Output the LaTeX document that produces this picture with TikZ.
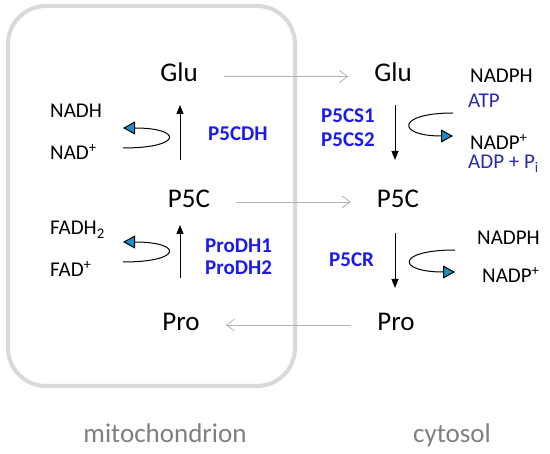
\documentclass[tikz,border=0pt]{standalone}
\usepackage{fontspec}
\setmainfont{Carlito}
\usetikzlibrary{arrows.meta}
\definecolor{boxgray}{HTML}{D9D9D9}
\definecolor{arrgray}{HTML}{B4B4B4}
\definecolor{enzblue}{HTML}{1A1AF0}
\definecolor{navyblue}{HTML}{2B2BA6}
\definecolor{curlblue}{HTML}{1E8CC8}
\definecolor{labgray}{HTML}{7F7F7F}
\begin{document}
\begin{tikzpicture}[x=1pt,y=-1pt,
  main/.style={font=\fontsize{27}{30}\selectfont, text height=17pt, text depth=6pt, inner xsep=26pt, inner ysep=0pt},
  cof/.style={font=\fontsize{21}{24}\selectfont, anchor=base west, inner sep=0pt},
  cofnavy/.style={cof, text=navyblue},
  enz/.style={font=\fontsize{21}{24}\selectfont\bfseries, text=enzblue, anchor=base west, inner sep=0pt},
  comp/.style={font=\fontsize{27}{30}\selectfont, text=labgray, anchor=base, inner sep=0pt},
  garrow/.style={draw=arrgray, line width=0.8pt, -{Straight Barb[length=8pt,width=12pt]}},
  varrow/.style={draw=black, line width=0.9pt, -{Triangle[length=9pt,width=7pt]}},
  curl/.style={draw=black, line width=1pt, -{Triangle[length=12pt,width=13pt,fill=curlblue]}}
]
\useasboundingbox (0,0) rectangle (550,454);
\draw[boxgray, line width=4pt, rounded corners=38pt] (8,6) rectangle (295,386);

% main metabolites
\node[main] (glum) at (179,76.5) {Glu};
\node[main] (gluc) at (393,76.5) {Glu};
\node[main] (p5cm) at (189,202) {P5C};
\node[main] (p5cc) at (398,202) {P5C};
\node[main] (prom) at (181,325) {Pro};
\node[main] (proc) at (396,325) {Pro};

% transport arrows
\draw[garrow] (glum) -- (gluc);
\draw[garrow] (p5cm) -- (p5cc);
\draw[garrow] (proc) -- (prom);

% reaction arrows
\coordinate (m1s) at (180,160);
\coordinate (m1e) at (180,105);
\coordinate (m2s) at (180,278);
\coordinate (m2e) at (180,225);
\coordinate (c1s) at (395,105);
\coordinate (c1e) at (395,160);
\coordinate (c2s) at (395,233);
\coordinate (c2e) at (395,288);
\draw[varrow] (m1s) -- (m1e);
\draw[varrow] (m2s) -- (m2e);
\draw[varrow] (c1s) -- (c1e);
\draw[varrow] (c2s) -- (c2e);

% cofactors
\node[cof] (nadh) at (50,118) {NADH};
\node[cof] (nad) at (50,160) {NAD\textsuperscript{+}};
\node[cof] (fadh) at (50,235) {FADH\textsubscript{2}};
\node[cof] (fad) at (50,277) {FAD\textsuperscript{+}};
\node[cof] (nadph1) at (470,83) {NADPH};
\node[cofnavy] (atp) at (468,108) {ATP};
\node[cof] (nadp1) at (470,150) {NADP\textsuperscript{+}};
\node[cofnavy] (adp) at (468,169) {ADP + P\textsubscript{i}};
\node[cof] (nadph2) at (477,245) {NADPH};
\node[cof] (nadp2) at (482,283) {NADP\textsuperscript{+}};

% enzymes
\node[enz] (p5cdh) at (208,141) {P5CDH};
\node[enz] (prodh1) at (205,253) {ProDH1};
\node[enz] (prodh2) at (205,275) {ProDH2};
\node[enz] (p5cs1) at (321,123) {P5CS1};
\node[enz] (p5cs2) at (321,147) {P5CS2};
\node[enz] (p5cr) at (329,267) {P5CR};

% cofactor curls
\coordinate (k1s) at (123,148);
\coordinate (k1e) at (123,128);
\coordinate (k2s) at (123,262);
\coordinate (k2e) at (123,242);
\coordinate (k3s) at (453,113);
\coordinate (k3e) at (453,136);
\coordinate (k4s) at (455,250);
\coordinate (k4e) at (455,272);
\draw[curl] (k1s) .. controls (183,148) and (183,128) .. (k1e);
\draw[curl] (k2s) .. controls (183,262) and (183,242) .. (k2e);
\draw[curl] (k3s) .. controls (396,113) and (396,136) .. (k3e);
\draw[curl] (k4s) .. controls (396,250) and (396,272) .. (k4e);

% compartments
\node[comp] (mito) at (165,443) {mitochondrion};
\node[comp] (cyto) at (452,443) {cytosol};
\end{tikzpicture}
\end{document}
